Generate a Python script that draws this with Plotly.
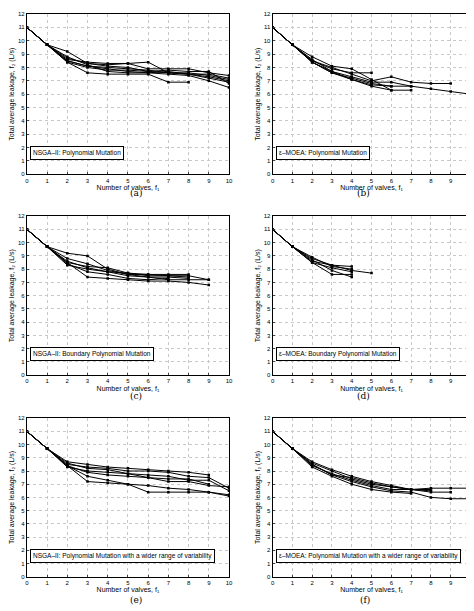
import plotly.graph_objects as go

# Pareto fronts, one list per run (x = 0, 1, 2, ...)
panel_a = [
    [11, 9.7, 8.5, 8.1, 8.0, 7.9, 7.8, 7.6, 7.5, 7.2, 6.9],
    [11, 9.7, 9.2, 8.3, 8.2, 8.3, 8.4, 7.6, 7.5, 7.3, 7.0],
    [11, 9.7, 8.4, 7.6, 7.5, 7.5, 7.5, 6.9, 6.9],
    [11, 9.7, 8.6, 8.4, 8.3, 8.3, 7.9, 7.9, 7.9, 7.6, 7.4],
    [11, 9.7, 8.8, 8.2, 7.7, 7.6, 7.6, 7.5, 7.4, 7.0, 6.5],
    [11, 9.7, 8.5, 8.1, 7.9, 7.7, 7.6, 7.7, 7.5, 7.5, 7.2],
    [11, 9.7, 8.4, 8.0, 7.8, 7.8, 7.7, 7.6, 7.6, 7.4, 7.1],
    [11, 9.7, 8.7, 8.3, 8.1, 8.0, 7.7, 7.8, 7.7, 7.7, 6.8],
]
panel_b = [
    [11, 9.7, 8.4, 7.6, 7.2, 6.8, 6.6, 6.6, 6.4, 6.2, 6.0],
    [11, 9.7, 8.8, 8.1, 7.9, 7.1, 6.3, 6.3],
    [11, 9.7, 8.5, 7.9, 7.6, 7.6],
    [11, 9.7, 8.5, 8.0, 7.5, 7.0, 7.3, 6.9, 6.8, 6.8],
    [11, 9.7, 8.4, 7.6, 7.1, 6.7, 6.6],
    [11, 9.7, 8.6, 7.7, 7.3, 6.9, 6.9, 6.6],
    [11, 9.7, 8.4, 7.7, 7.1, 6.6, 6.3],
]
panel_c = [
    [11, 9.7, 9.2, 9.0, 8.0, 7.6, 7.6, 7.5, 7.5, 7.2],
    [11, 9.7, 8.5, 7.4, 7.3, 7.2, 7.1, 7.1, 7.0, 6.8],
    [11, 9.7, 8.6, 8.1, 7.8, 7.5, 7.4, 7.4, 7.3],
    [11, 9.7, 8.3, 8.0, 7.8, 7.7, 7.6, 7.6, 7.6],
    [11, 9.7, 8.5, 8.2, 8.1, 7.7, 7.5, 7.5, 7.4],
    [11, 9.7, 8.8, 8.4, 7.9, 7.6, 7.4, 7.2, 7.2, 7.2],
    [11, 9.7, 8.4, 7.8, 7.6, 7.3, 7.2, 7.3],
]
panel_d = [
    [11, 9.7, 8.9, 8.2, 8.0],
    [11, 9.7, 8.6, 8.3, 7.9, 7.7],
    [11, 9.7, 8.7, 7.9, 7.4],
    [11, 9.7, 8.5, 8.1, 7.8],
    [11, 9.7, 8.5, 7.6, 7.6],
    [11, 9.7, 8.8, 8.3, 8.2],
]
panel_e = [
    [11, 9.7, 8.5, 8.3, 8.2, 8.0, 8.0, 7.9, 7.6, 7.5, 6.7],
    [11, 9.7, 8.4, 7.2, 7.1, 7.0, 6.9, 6.7, 6.6, 6.4, 6.1],
    [11, 9.7, 8.6, 8.2, 8.1, 7.8, 7.5, 7.4, 7.4, 7.0],
    [11, 9.7, 8.4, 7.6, 7.3, 7.0, 6.4, 6.4, 6.4, 6.4, 6.2],
    [11, 9.7, 8.7, 8.5, 8.3, 8.2, 8.1, 8.0, 7.9, 7.7],
    [11, 9.7, 8.4, 7.9, 7.7, 7.6, 7.5, 7.2, 7.2, 6.9, 6.8],
    [11, 9.7, 8.3, 8.0, 7.9, 7.8, 7.7, 7.6, 7.3, 7.3, 6.5],
]
panel_f = [
    [11, 9.7, 8.5, 7.7, 7.2, 6.8, 6.5, 6.4, 6.0, 5.9, 5.9],
    [11, 9.7, 8.4, 7.8, 7.3, 6.9, 6.6, 6.6, 6.7, 6.7, 6.7],
    [11, 9.7, 8.7, 8.1, 7.6, 7.2, 6.9, 6.6, 6.4, 6.4],
    [11, 9.7, 8.3, 7.6, 7.0, 6.6, 6.4, 6.3],
    [11, 9.7, 8.6, 8.0, 7.4, 7.0, 6.8, 6.6, 6.6],
    [11, 9.7, 8.5, 7.7, 7.5, 7.1, 6.8, 6.6, 6.5],
]

labels = ['NSGA\u2013II: Polynomial Mutation', '\u03b5\u2013MOEA: Polynomial Mutation',
          'NSGA\u2013II: Boundary Polynomial Mutation', '\u03b5\u2013MOEA: Boundary Polynomial Mutation',
          'NSGA\u2013II: Polynomial Mutation with a wider range of variability',
          '\u03b5\u2013MOEA: Polynomial Mutation with a wider range of variability']
captions = ['(a)', '(b)', '(c)', '(d)', '(e)', '(f)']
panels = [panel_a, panel_b, panel_c, panel_d, panel_e, panel_f]

xdom = [(0.036, 0.468), (0.561, 0.984)]
ydom = [(0.730, 0.995), (0.398, 0.661), (0.065, 0.327)]
cap_y = [0.700, 0.363, 0.026]

fig = go.Figure()
font = dict(family='Liberation Sans', size=7, color='black')

for i, runs in enumerate(panels):
    r, c = divmod(i, 2)
    n = i + 1
    xa = 'x' if n == 1 else f'x{n}'
    ya = 'y' if n == 1 else f'y{n}'
    for run in runs:
        fig.add_trace(go.Scatter(x=list(range(len(run))), y=run, mode='lines+markers',
                                 line=dict(color='black', width=1),
                                 marker=dict(size=2.5, color='black', symbol='square'),
                                 xaxis=xa, yaxis=ya, showlegend=False))
    fig.layout['xaxis' if n == 1 else f'xaxis{n}'] = dict(
        domain=xdom[c], anchor=ya, range=[0, 10], dtick=1, showgrid=True,
        gridcolor='#c8c8c8', griddash='dot', showline=True, linecolor='black', mirror=True,
        ticks='inside', ticklen=2, tickfont=dict(size=6), zeroline=False,
        title=dict(text='Number of valves, f\u2081', font=font, standoff=2))
    fig.layout['yaxis' if n == 1 else f'yaxis{n}'] = dict(
        domain=ydom[r], anchor=xa, range=[0, 12], dtick=1, showgrid=True,
        gridcolor='#c8c8c8', griddash='dot', showline=True, linecolor='black', mirror=True,
        ticks='inside', ticklen=2, tickfont=dict(size=6), zeroline=False,
        title=dict(text='Total average leakage, f\u2082 (L/s)', font=font, standoff=2))
    fig.add_annotation(x=0.15, y=1.6, xref=xa, yref=ya, text=labels[i], showarrow=False,
                       xanchor='left', font=dict(family='Liberation Sans', size=6.5, color='black'),
                       bordercolor='black', borderwidth=1, borderpad=2, bgcolor='white')
    fig.add_annotation(x=(xdom[c][0] + xdom[c][1]) / 2, y=cap_y[r],
                       xref='paper', yref='paper', text=captions[i], showarrow=False,
                       yanchor='middle', font=dict(family='DejaVu Serif', size=9, color='black'))

fig.update_layout(width=474, height=611, margin=dict(l=0, r=0, t=0, b=0),
                  plot_bgcolor='white', paper_bgcolor='white', font=font)
fig.write_html('out.html')
